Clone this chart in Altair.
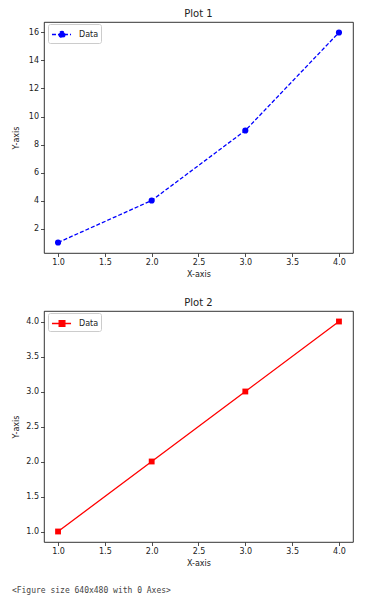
import altair as alt
import pandas as pd

# ---- data ----
x_values = [1, 2, 3, 4]
plot1_y = [1, 4, 9, 16]
plot2_y = [1, 2, 3, 4]
series_name = ["Data", "Data", "Data", "Data"]
panel_titles = ["Plot 1", "Plot 2"]
x_ticks = [1.0, 1.5, 2.0, 2.5, 3.0, 3.5, 4.0]
y1_ticks = [2, 4, 6, 8, 10, 12, 14, 16]
y2_ticks = [1.0, 1.5, 2.0, 2.5, 3.0, 3.5, 4.0]
caption = "<Figure size 640x480 with 0 Axes>"

FONT = "DejaVu Sans"
MONO = "DejaVu Sans Mono"
TEXT = "#222222"

CIRCLE_PATH = ("M-0.87,0L1.67,0"
               "M0.07,0A0.4,0.4,0,1,0,0.87,0A0.4,0.4,0,1,0,0.07,0Z")
SQUARE_PATH = ("M-0.87,0L1.67,0"
               "M0.09,-0.38L0.85,-0.38L0.85,0.38L0.09,0.38Z")


def padded(lo, hi):
    span = hi - lo
    return [lo - 0.05 * span, hi + 0.05 * span]


def panel(xs, ys, title, color, dash, shape, size, legend_path, y_ticks, y_fmt, y_title_pad):
    df = pd.DataFrame({"x": xs, "y": ys, "series": series_name})
    legend_kw = dict(
        title=None,
        orient="none",
        legendX=4,
        legendY=2,
        fillColor="white",
        strokeColor="#cccccc",
        cornerRadius=2,
        padding=2,
        symbolType=legend_path,
        symbolSize=225,
        symbolStrokeWidth=1.3,
        symbolFillColor=color,
        symbolStrokeColor=color,
        labelFont=FONT,
        labelFontSize=8,
        labelColor=TEXT,
        labelOffset=12,
    )
    if dash:
        legend_kw["symbolDash"] = dash
    base = alt.Chart(
        df,
        title=alt.TitleParams(title, font=FONT, fontSize=10, fontWeight="normal",
                              color=TEXT, offset=3),
    ).encode(
        x=alt.X("x:Q",
                scale=alt.Scale(domain=padded(min(xs), max(xs)), nice=False, zero=False),
                axis=alt.Axis(values=x_ticks, format=".1f", title="X-axis",
                              titlePadding=4)),
        y=alt.Y("y:Q",
                scale=alt.Scale(domain=padded(min(ys), max(ys)), nice=False, zero=False),
                axis=alt.Axis(values=y_ticks, format=y_fmt, title="Y-axis",
                              titlePadding=y_title_pad)),
        color=alt.Color("series:N", scale=alt.Scale(range=[color]),
                        legend=alt.Legend(**legend_kw)),
    )
    line_kw = dict(strokeWidth=1.3)
    if dash:
        line_kw["strokeDash"] = dash
    line = base.mark_line(**line_kw)
    pts = base.mark_point(shape=shape, filled=True, size=size, opacity=1)
    return alt.layer(line, pts).properties(width=309, height=231)


p1 = panel(x_values, plot1_y, panel_titles[0], "#0000ff", [4, 2], "circle", 38,
           CIRCLE_PATH, y1_ticks, "d", 8)
p2 = panel(x_values, plot2_y, panel_titles[1], "#ff0000", None, "square", 34,
           SQUARE_PATH, y2_ticks, ".1f", 5)

chart = (
    alt.vconcat(p1, p2, spacing=18)
    .resolve_scale(color="independent")
    .resolve_legend(color="independent")
    .properties(
        padding={"left": 3, "top": 0, "right": 0, "bottom": 0},
        title=alt.TitleParams(caption, orient="bottom", anchor="start",
                              font=MONO, fontSize=8, fontWeight="normal",
                              color="#444444", offset=19),
    )
    .configure_view(stroke="black", strokeWidth=0.8)
    .configure_axis(
        labelFont=FONT, titleFont=FONT, labelFontSize=8, titleFontSize=8,
        titleFontWeight="normal", labelColor=TEXT, titleColor=TEXT,
        tickColor=TEXT, tickSize=3.5, tickWidth=0.8, labelPadding=2,
        domain=False, grid=False,
    )
)

chart.save("out.html", embed_options={"renderer": "svg", "actions": False})
